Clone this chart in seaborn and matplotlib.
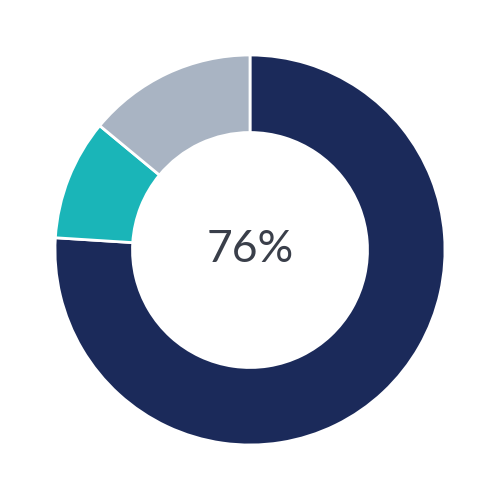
import matplotlib.pyplot as plt
import seaborn as sns

sns.set_theme(style="white")
plt.rcParams['font.family'] = ['Lato', 'DejaVu Sans']

labels = ["Main", "Teal", "Gray"]
values = [76, 10, 14]
colors = ["#1b2a5a", "#1ab5b8", "#a9b4c3"]

fig, ax = plt.subplots(figsize=(5, 5), dpi=100)
fig.subplots_adjust(0, 0, 1, 1)
ax.pie(values, colors=colors, startangle=90, counterclock=False, radius=0.78,
       wedgeprops=dict(width=0.31, edgecolor="white", linewidth=2))
ax.text(0, 0, "76%", ha="center", va="center", fontsize=32, color="#3a3f4a")
ax.set_xlim(-1, 1)
ax.set_ylim(-1, 1)
ax.set_aspect("equal")
fig.savefig("out.png")
